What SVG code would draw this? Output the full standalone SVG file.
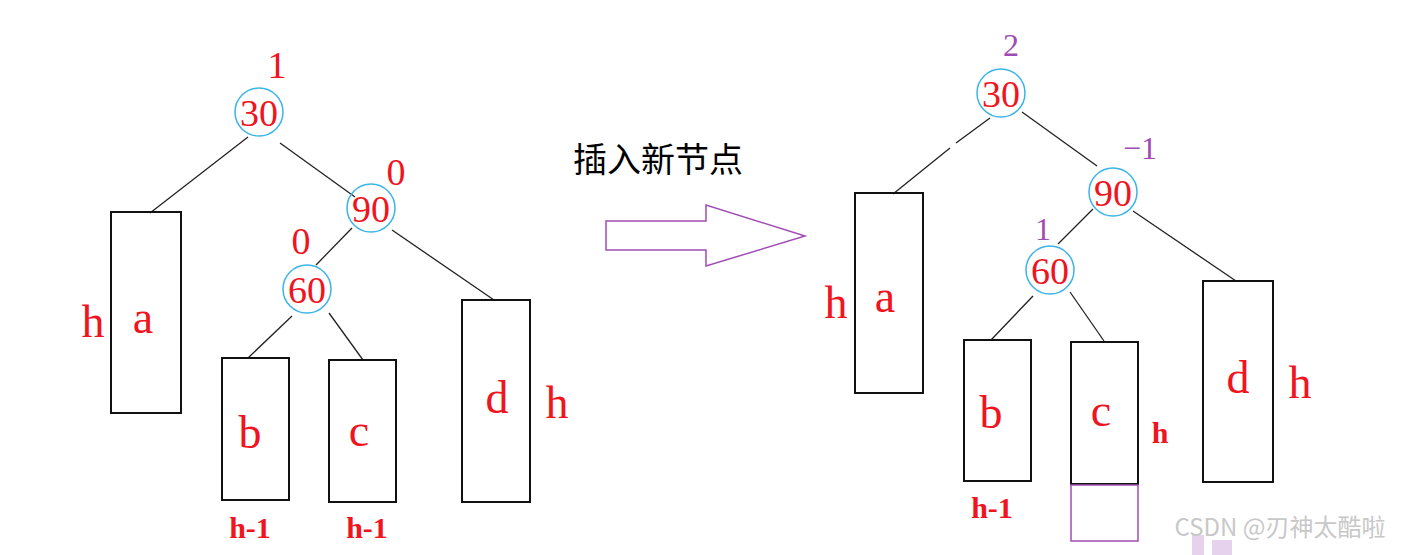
<svg xmlns="http://www.w3.org/2000/svg" width="1402" height="555" viewBox="0 0 1402 555">
<style>
.c{fill:none;stroke:#3bb4ea;stroke-width:1.5}
.b{fill:none;stroke:#111;stroke-width:2}
.t{font-family:"Liberation Serif",serif;fill:#f0141e;text-anchor:middle}
.n{font-size:38px}
.l{font-size:46px}
.s{font-size:30px;font-weight:bold}
.p{font-family:"Liberation Serif",serif;fill:#a04cb4;text-anchor:middle;font-size:32px}
.e{stroke:#222;stroke-width:1.3}
</style>
<rect width="1402" height="555" fill="#fff"/>
<g id="connectors">
<line class="e" x1="248" y1="137" x2="150" y2="213"/>
<line class="e" x1="280" y1="143" x2="355" y2="197"/>
<line class="e" x1="352" y1="228" x2="316" y2="265"/>
<line class="e" x1="392" y1="230" x2="494" y2="300"/>
<line class="e" x1="292" y1="316" x2="248" y2="358"/>
<line class="e" x1="329" y1="313" x2="363" y2="360"/>
<line class="e" x1="990" y1="118" x2="956" y2="143"/>
<line class="e" x1="950" y1="148" x2="893" y2="194"/>
<line class="e" x1="1022" y1="112" x2="1097" y2="166"/>
<line class="e" x1="1093" y1="209" x2="1058" y2="244"/>
<line class="e" x1="1133" y1="211" x2="1236" y2="281"/>
<line class="e" x1="1033" y1="296" x2="991" y2="340"/>
<line class="e" x1="1070" y1="292" x2="1104" y2="341"/>
</g>
<g id="left-30"><circle class="c" cx="259" cy="112" r="24"/><text class="t n" x="259" y="126">30</text><text class="t n" x="277" y="78">1</text></g>
<g id="left-90"><circle class="c" cx="371" cy="208" r="24"/><text class="t n" x="371" y="222">90</text><text class="t n" x="396" y="185">0</text></g>
<g id="left-60"><circle class="c" cx="307" cy="289" r="24"/><text class="t n" x="307" y="303">60</text><text class="t n" x="301" y="254">0</text></g>
<g id="left-a"><rect class="b" x="111" y="212" width="70" height="201"/><text class="t l" x="143" y="333">a</text><text class="t l" x="93" y="337">h</text></g>
<g id="left-b"><rect class="b" x="222" y="358" width="67" height="142"/><text class="t l" x="250" y="448">b</text><text class="t s" x="250" y="538">h-1</text></g>
<g id="left-c"><rect class="b" x="329" y="360" width="67" height="142"/><text class="t l" x="359" y="446">c</text><text class="t s" x="367" y="538">h-1</text></g>
<g id="left-d"><rect class="b" x="462" y="300" width="68" height="202"/><text class="t l" x="497" y="413">d</text><text class="t l" x="557" y="418">h</text></g>
<g id="arrow">
<polygon points="606,221 706,221 706,205 805,236 706,266 706,250 606,250" fill="#fff" stroke="#a04cb4" stroke-width="1.5"/>
<text x="658" y="172" font-family="'Noto Sans CJK SC',sans-serif" font-size="34" fill="#000" text-anchor="middle">插入新节点</text>
</g>
<g id="right-30"><circle class="c" cx="1001" cy="93" r="24"/><text class="t n" x="1001" y="107">30</text><text class="p" x="1011" y="56">2</text></g>
<g id="right-90"><circle class="c" cx="1113" cy="192" r="24"/><text class="t n" x="1113" y="206">90</text><text class="p" x="1140" y="159">−1</text></g>
<g id="right-60"><circle class="c" cx="1050" cy="270" r="24"/><text class="t n" x="1050" y="284">60</text><text class="p" x="1043" y="240">1</text></g>
<g id="right-a"><rect class="b" x="855" y="193" width="68" height="200"/><text class="t l" x="885" y="312">a</text><text class="t l" x="836" y="318">h</text></g>
<g id="right-b"><rect class="b" x="964" y="340" width="67" height="141"/><text class="t l" x="991" y="428">b</text><text class="t s" x="992" y="518">h-1</text></g>
<g id="right-c"><rect class="b" x="1071" y="342" width="67" height="142"/><text class="t l" x="1101" y="426">c</text><text class="t s" x="1160" y="443">h</text></g>
<g id="new"><rect x="1071" y="485" width="67" height="56" fill="none" stroke="#a04cb4" stroke-width="1.5"/></g>
<g id="right-d"><rect class="b" x="1203" y="281" width="70" height="201"/><text class="t l" x="1238" y="393">d</text><text class="t l" x="1300" y="398">h</text></g>
<rect x="1192" y="535" width="12" height="20" fill="#e6d2ec"/>
<rect x="1212" y="540" width="20" height="15" fill="#e6d2ec"/>
<text x="1280" y="536" font-family="'Noto Sans CJK SC',sans-serif" font-size="24" fill="#c8c8c8" text-anchor="middle">CSDN @刃神太酷啦</text>
</svg>
